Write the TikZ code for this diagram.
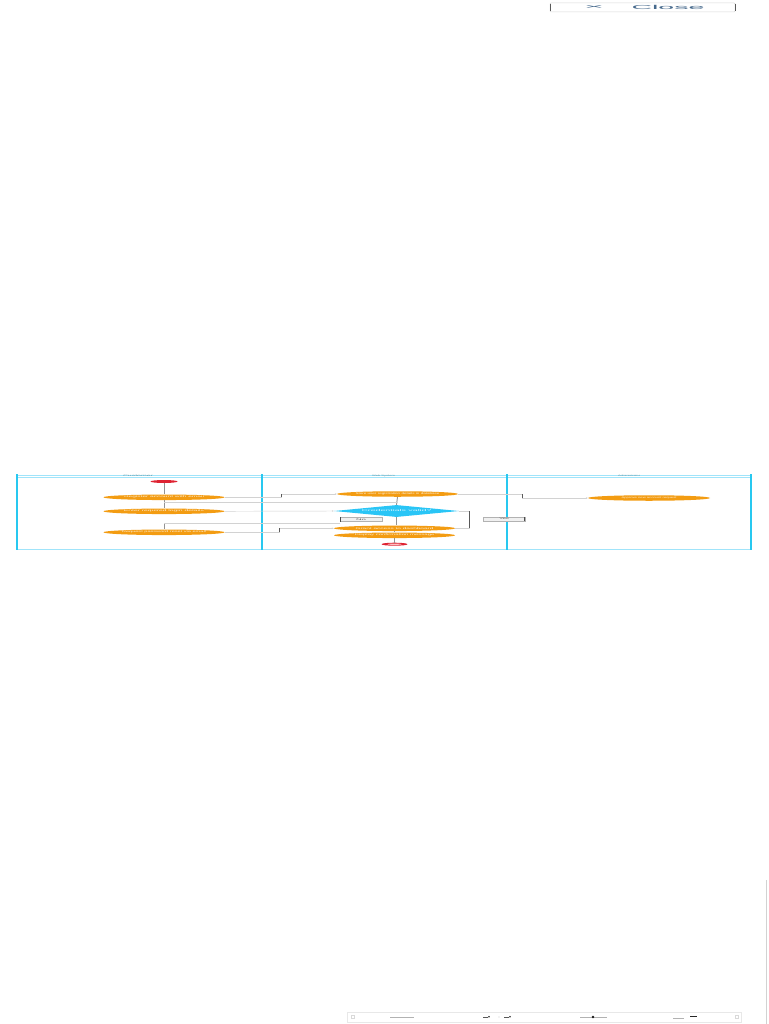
\documentclass[tikz,border=0pt]{standalone}
\usepackage{fontspec}
\setmainfont{Liberation Sans}
\newfontfamily\djv{DejaVu Sans}
\usetikzlibrary{shapes.geometric,arrows.meta}
\definecolor{act}{RGB}{243,156,18}
\definecolor{dec}{RGB}{41,197,246}
\definecolor{lane}{RGB}{40,200,240}
\definecolor{lanelt}{RGB}{160,228,250}
\definecolor{startred}{RGB}{222,35,50}
\definecolor{closeblue}{RGB}{70,105,140}
\newcommand{\sq}[3]{\resizebox{#1pt}{#2pt}{#3}}
\tikzset{
  activity/.style={ellipse, fill=act, minimum width=121pt, minimum height=5.5pt, inner sep=0pt, text=white!85!act},
  decision/.style={diamond, fill=dec, minimum width=125pt, minimum height=12pt, aspect=10, inner sep=0pt, text=white!80!dec},
  terminal/.style={ellipse, fill=startred, minimum width=27pt, minimum height=3pt, inner sep=0pt},
  guard/.style={rectangle, draw=gray!60, fill=gray!12, line width=0.3pt, minimum width=42pt, minimum height=4pt, inner sep=0pt, text=gray!70!black},
  flow/.style={draw=gray!85, line width=0.9pt},
  link/.style={draw=gray!35, line width=0.45pt, -{Stealth[length=2pt,width=1.6pt]}},
  linkplain/.style={draw=gray!35, line width=0.45pt},
  tick/.style={draw=gray!70!black, line width=0.5pt},
  lanetitle/.style={text=gray!70!lane, inner sep=0pt},
}
\begin{document}
\begin{tikzpicture}[x=1pt,y=-1pt]
\useasboundingbox (0,0) rectangle (768,1024);
\fill[white] (0,0) rectangle (768,1024);

% close button
\node[draw=gray!30, rounded corners=1pt, line width=0.5pt, minimum width=185pt, minimum height=9pt, inner sep=0pt] (closebtn) at (642.5,7.5) {};
\draw[gray!70!black, line width=0.6pt] ([xshift=0.4pt,yshift=-1pt]closebtn.north west) -- ([xshift=0.4pt,yshift=1pt]closebtn.south west);
\draw[gray!70!black, line width=0.6pt] ([xshift=-0.4pt,yshift=-1pt]closebtn.north east) -- ([xshift=-0.4pt,yshift=1pt]closebtn.south east);
\node[text=closeblue, inner sep=0pt] (closex) at (594,7.3) {\sq{22}{2.8}{\djv ✕}};
\node[text=closeblue, inner sep=0pt] (closet) at (668,7.3) {\sq{73}{4.2}{Close}};

% swimlanes
\draw[lanelt, line width=0.6pt] (17,475) -- (751,475);
\draw[lanelt, line width=0.6pt] (17,477) -- (751,477);
\draw[lanelt, line width=0.8pt] (17,549.5) -- (751,549.5);
\foreach \lx in {17,262,507,751}{
  \draw[lane, line width=1.3pt] (\lx,474) -- (\lx,550);
}
\node[lanetitle] (title1) at (138,475.6) {\sq{30}{1.5}{Customer}};
\node[lanetitle] (title2) at (383.5,475.6) {\sq{23}{1.5}{Web System}};
\node[lanetitle] (title3) at (629,475.6) {\sq{22}{1.5}{Administrator}};

% nodes
\node[terminal] (start) at (164,481.5) {};
\node[activity] (L1) at (164,497.3) {\sq{80}{1.8}{Register account with email}};
\node[activity] (L2) at (164,511.3) {\sq{80}{1.8}{Enter required login details}};
\node[activity] (L3) at (164,532.3) {\sq{84}{1.8}{Request password reset via email}};
\node[activity] (M1) at (397.5,494) {\sq{84}{1.8}{Store user registration details in database}};
\node[decision] (D) at (396.5,511) {\sq{70}{2}{Credentials valid?}};
\node[activity] (M3) at (394.5,528.3) {\sq{78}{1.8}{Grant access to dashboard}};
\node[activity] (M4) at (394.5,535.3) {\sq{80}{1.8}{Display confirmation message}};
\node[terminal, minimum width=26pt] (end) at (394.5,544.2) {};
\node[ellipse, fill=red!25, minimum width=14pt, minimum height=1.4pt, inner sep=0pt] (endin) at (end.center) {};
\node[activity, minimum width=122pt] (R1) at (649,498) {\sq{55}{1.6}{Approve new account request}};

\node[guard] (no) at (361,519.5) {\sq{10}{1.6}{No}};
\node[guard] (yes) at (504,518.7) {\sq{10}{1.6}{Yes}};
\fill[gray!60!black] (no.north west) rectangle ([xshift=1pt]no.south west);
\fill[gray!60!black] (yes.north east) rectangle ([xshift=-1pt]yes.south east);

% bend points
\coordinate (b1) at (281,494);
\coordinate (b2) at (279,528.3);
\coordinate (b3) at (469,511);
\coordinate (b4) at (522,498);
\coordinate (j1) at (164,502.3);
\coordinate (j2) at (164,523.3);
\coordinate (j3) at (340,523.3);

% main flow
\draw[flow] (start) -- (L1);
\draw[flow] (L1) -- (L2);
\draw[flow] (j2) -- (L3.north);
\draw[flow] (M1.south) -- (D.north);
\draw[flow] (D.south) -- (D.south |- M3.north);
\draw[flow] (M3.south) -- (M4.north);
\draw[flow] (M4.south) -- (end.north);

% cross-lane connectors
\draw[link] (L1.east) -| (b1) -- (M1.west);
\draw[tick] (b1) -- (b1 |- L1.east);
\draw[linkplain] (M1.south |- j1) -- (j1);
\draw[link] (L2.east) -- (D.west);
\draw[linkplain] (j3) -- (j2);
\draw[link] (L3.east) -| (b2) -- (M3.west);
\draw[tick] (b2) -- (b2 |- L3.east);
\draw[linkplain] (D.east) -- (b3) |- (M3.east);
\draw[tick] (b3) -- (b3 |- M3.east);
\draw[link] (M1.east) -| (b4) -- (R1.west);
\draw[tick] (b4) -- (b4 |- M1.east);

% bottom toolbar
\draw[gray!18, line width=0.5pt] (347,1012.5) rectangle (741,1022.5);
\node[draw=gray!30, line width=0.3pt, minimum size=3pt, inner sep=0pt] (tb0) at (353,1017) {};
\node[draw=gray!30, line width=0.3pt, minimum size=3pt, inner sep=0pt] (tb9) at (737,1017) {};
\draw[gray!60, line width=0.5pt] (390,1017) -- (414,1017);
\draw[gray!70!black, line width=0.5pt] (483,1016.8) -- (488,1016.8);
\fill[gray!30!black] (489,1016.8) circle (0.9pt);
\fill[gray!40] (499,1017) circle (0.6pt);
\draw[gray!70!black, line width=0.5pt] (504,1016.8) -- (509,1016.8);
\fill[gray!30!black] (510,1016.8) circle (0.9pt);
\draw[gray!60, line width=0.5pt] (580,1017) -- (607,1017);
\fill[gray!20!black] (593,1017) circle (1.3pt);
\draw[gray!60, line width=0.6pt] (673,1018.5) -- (684,1018.5);
\draw[gray!30!black, line width=0.8pt] (690,1016) -- (697,1016);

% page edge
\draw[gray!35, line width=0.6pt] (766,880) -- (766,1024);
\end{tikzpicture}
\end{document}
